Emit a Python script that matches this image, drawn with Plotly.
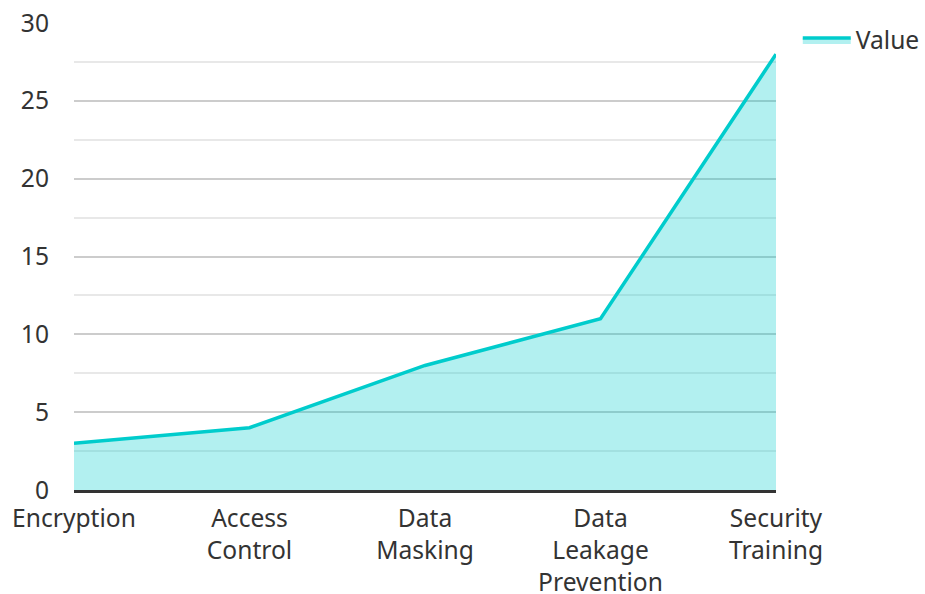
import plotly.graph_objects as go

categories = ["Encryption", "Access Control", "Data Masking", "Data Leakage Prevention", "Security Training"]
tick_labels = ["Encryption", "Access<br>Control", "Data<br>Masking", "Data<br>Leakage<br>Prevention", "Security<br>Training"]
values = [3, 4, 8, 11, 28]
series_name = "Value"
y_ticks = [0, 5, 10, 15, 20, 25, 30]

fig = go.Figure()
fig.add_trace(go.Scatter(
    x=categories, y=values, name=series_name,
    mode="lines", fill="tozeroy",
    line=dict(color="#00CCCC", width=3.5),
    fillcolor="rgba(0,204,204,0.30)",
))

fig.update_layout(
    width=925, height=594,
    margin=dict(l=74, r=149, t=23, b=104, autoexpand=False),
    paper_bgcolor="white", plot_bgcolor="white",
    font=dict(family="Noto Sans", size=24.6, color="#333333"),
    showlegend=True,
    legend=dict(x=1.031, y=1.012, xanchor="left", yanchor="top", itemwidth=48,
                font=dict(size=24.6, color="#333333"), bgcolor="rgba(0,0,0,0)"),
    xaxis=dict(
        type="category", range=[0, 4],
        tickmode="array", tickvals=categories, ticktext=tick_labels,
        showgrid=False, zeroline=False,
        showline=True, linecolor="#333333", linewidth=2.5,
        ticks="", ticklabelstandoff=5,
    ),
    yaxis=dict(
        range=[0, 30], tickmode="array", tickvals=y_ticks,
        showgrid=True, gridcolor="#cccccc", gridwidth=1.5,
        minor=dict(dtick=2.5, showgrid=True, gridcolor="#e8e8e8", gridwidth=1.5, ticks=""),
        zeroline=False, showline=False,
        ticks="", ticklabelstandoff=24,
    ),
)

fig.write_html("out.html")
